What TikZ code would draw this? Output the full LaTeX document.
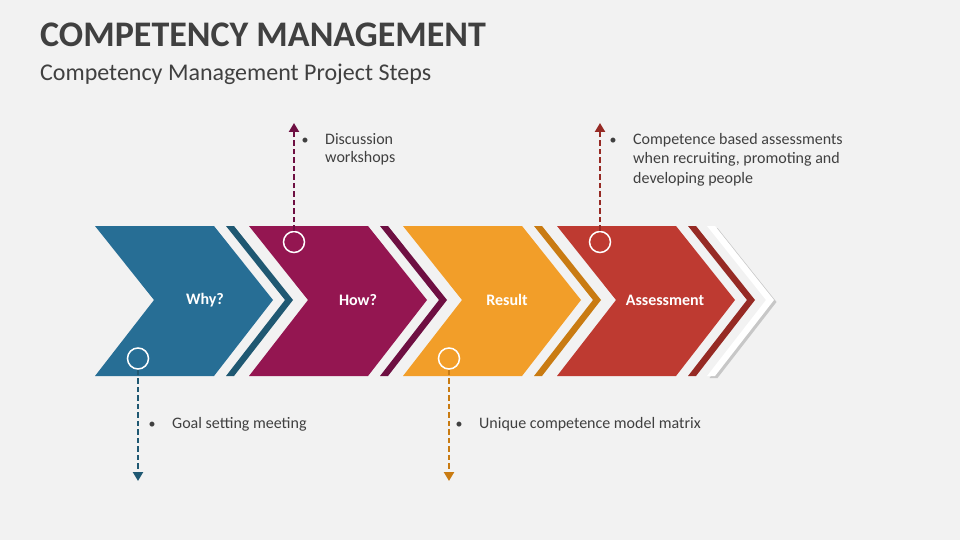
\documentclass[tikz,border=0pt]{standalone}
\usepackage{fontspec}
\setmainfont{Carlito}
\usetikzlibrary{arrows.meta}
\definecolor{bg}{HTML}{F2F2F2}
\definecolor{txt}{HTML}{404040}
\definecolor{cblue}{HTML}{276E95}
\definecolor{dblue}{HTML}{1F5872}
\definecolor{cmag}{HTML}{941651}
\definecolor{dmag}{HTML}{6E0F42}
\definecolor{corange}{HTML}{F29E29}
\definecolor{dorange}{HTML}{C97B12}
\definecolor{cred}{HTML}{BE3A31}
\definecolor{dred}{HTML}{962A24}
\tikzset{
  ring/.style={circle,draw=white,line width=1.5pt,minimum size=21pt,inner sep=0pt},
  lbl/.style={font=\bfseries\fontsize{16}{18}\selectfont,text=white},
  body/.style={font=\fontsize{16}{18}\selectfont,text=txt,inner sep=0pt,anchor=base west},
  bul/.style={font=\fontsize{14}{16}\selectfont,text=txt,inner sep=0pt,anchor=base},
  dline/.style={line width=2.5pt,dash pattern=on 5.5pt off 3pt,-{Triangle[length=9pt,width=10pt]}},
}
\newcommand{\chev}[2]{% #1 left x, #2 colour
  \fill[#2] (#1,226) -- ++(119,0) -- ++(59,74) -- ++(-59,76) -- ++(-119,0) -- ++(59,-76) -- cycle;}
\newcommand{\stripe}[2]{% #1 left x, #2 colour
  \fill[#2] (#1,226) -- ++(8,0) -- ++(59,74) -- ++(-59,76) -- ++(-8,0) -- ++(59,-76) -- cycle;}
\begin{document}
\begin{tikzpicture}[x=1pt,y=-1pt]
\fill[bg] (0,0) rectangle (960,540);
\useasboundingbox (0,0) rectangle (960,540);
% title
\node[anchor=base west,inner sep=0pt,text=txt,font=\bfseries\fontsize{36}{40}\selectfont] (title) at (40,46.5) {COMPETENCY MANAGEMENT};
\node[anchor=base west,inner sep=0pt,text=txt,font=\fontsize{24}{28}\selectfont] (subtitle) at (40,81) {Competency Management Project Steps};
% chevrons
\chev{95}{cblue}\stripe{226}{dblue}
\chev{249}{cmag}\stripe{380}{dmag}
\chev{403}{corange}\stripe{534}{dorange}
\chev{557}{cred}\stripe{688}{dred}
\fill[black!22] (709.5,228) -- ++(8,0) -- ++(59,74) -- ++(-59,76) -- ++(-8,0) -- ++(59,-76) -- cycle;
\fill[white] (707,226) -- ++(8,0) -- ++(59,74) -- ++(-59,76) -- ++(-8,0) -- ++(59,-76) -- cycle;
% labels
\node[lbl] (why) at (205,300) {Why?};
\node[lbl] (how) at (358,300) {How?};
\node[lbl] (res) at (507,300) {Result};
\node[lbl] (ass) at (665,300) {Assessment};
% rings
\node[ring] (r1) at (138,358.5) {};
\node[ring] (r2) at (294,242) {};
\node[ring] (r3) at (449,358.5) {};
\node[ring] (r4) at (600,242) {};
% arrow ends
\coordinate (e1) at (138,481);
\coordinate (e2) at (294,123);
\coordinate (e3) at (449,481);
\coordinate (e4) at (600,123);
\draw[dline,dblue] (r1.south) -- (e1);
\draw[dline,dmag] (r2.north) -- (e2);
\draw[dline,dorange] (r3.south) -- (e3);
\draw[dline,dred] (r4.north) -- (e4);
% texts
\node[bul] (b2) at (305,145) {•};
\node[body] (t2a) at (325,145) {Discussion};
\node[body] (t2b) at (325,163) {workshops};
\node[bul] (b4) at (613,145) {•};
\node[body] (t4a) at (633,145) {Competence based assessments};
\node[body] (t4b) at (633,164) {when recruiting, promoting and};
\node[body] (t4c) at (633,183) {developing people};
\node[bul] (b1) at (152,428.5) {•};
\node[body] (t1) at (172,428.5) {Goal setting meeting};
\node[bul] (b3) at (459,428.5) {•};
\node[body] (t3) at (479,428.5) {Unique competence model matrix};
\end{tikzpicture}
\end{document}
